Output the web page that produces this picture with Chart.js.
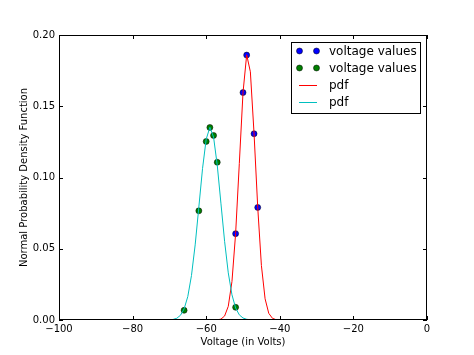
<!DOCTYPE html>
<html><head><meta charset="utf-8">
<script src="https://cdn.jsdelivr.net/npm/chart.js@4"></script>
<style>html,body{margin:0;padding:0;background:#fff}</style>
</head><body>
<canvas id="c" width="474" height="355"></canvas>
<script>
// Data
const blueX = [-49, -50, -47, -46, -52];
const blueY = [0.1859, 0.1596, 0.1307, 0.0790, 0.0606];
const greenX = [-59, -58, -60, -57, -62, -66, -52];
const greenY = [0.1351, 0.1295, 0.1253, 0.1107, 0.0766, 0.0068, 0.0089];
const redX = [-100, -58, -57, -56, -55, -54, -53, -52, -51, -50, -49, -48, -47, -46, -45, -44, -43, -42, -41, -40, 0];
const redY = [0, 0.0000, 0.0001, 0.0006, 0.0028, 0.0096, 0.0270, 0.0608, 0.1099, 0.1596, 0.1861, 0.1742, 0.1310, 0.0791, 0.0383, 0.0149, 0.0047, 0.0012, 0.0002, 0.0000, 0];
const cyanX = [-100, -72, -71, -70, -69, -68, -67, -66, -65, -64, -63, -62, -61, -60, -59, -58, -57, -56, -55, -54, -53, -52, -51, -50, -49, -48, -47, -46, 0];
const cyanY = [0, 0.0000, 0.0000, 0.0001, 0.0004, 0.0012, 0.0033, 0.0078, 0.0165, 0.0312, 0.0527, 0.0792, 0.1062, 0.1269, 0.1352, 0.1284, 0.1087, 0.0820, 0.0552, 0.0331, 0.0177, 0.0084, 0.0036, 0.0014, 0.0005, 0.0001, 0.0000, 0.0000, 0];
const xTicks = [-100, -80, -60, -40, -20, 0];
const xTickLabels = ['\u2212100', '\u221280', '\u221260', '\u221240', '\u221220', '0'];
const yTicks = [0, 0.05, 0.10, 0.15, 0.20];
const yTickLabels = ['0.00', '0.05', '0.10', '0.15', '0.20'];
const seriesLabels = ['voltage values', 'voltage values', 'pdf', 'pdf'];

const pts = (xs, ys) => xs.map((x, i) => ({x: x, y: ys[i]}));
const FONT = 'DejaVu Sans';

const framePlugin = {
  id: 'frame',
  afterDatasetsDraw(chart) {
    const {ctx, chartArea: a, scales: {x, y}} = chart;
    ctx.save();
    ctx.strokeStyle = '#000';
    ctx.lineWidth = 1;
    ctx.strokeRect(a.left + 0.5, a.top + 0.5, a.right - a.left - 1, a.bottom - a.top - 1);
    ctx.beginPath();
    xTicks.forEach(v => {
      const px = Math.round(x.getPixelForValue(v)) + 0.5;
      ctx.moveTo(px, a.bottom); ctx.lineTo(px, a.bottom - 4);
      ctx.moveTo(px, a.top); ctx.lineTo(px, a.top + 4);
    });
    yTicks.forEach(v => {
      const py = Math.round(y.getPixelForValue(v)) + 0.5;
      ctx.moveTo(a.left, py); ctx.lineTo(a.left + 4, py);
      ctx.moveTo(a.right, py); ctx.lineTo(a.right - 4, py);
    });
    ctx.stroke();
    ctx.restore();
  },
  afterDraw(chart) {
    const {ctx} = chart;
    const ds = chart.data.datasets;
    ctx.save();
    const bx = 291.5, by = 42.5, bw = 129, bh = 71;
    ctx.fillStyle = '#fff';
    ctx.fillRect(bx, by, bw, bh);
    ctx.strokeStyle = '#000';
    ctx.lineWidth = 1;
    ctx.strokeRect(bx, by, bw, bh);
    const rows = [51, 68, 85, 102];
    ctx.font = '12px "' + FONT + '"';
    ctx.textBaseline = 'middle';
    ctx.textAlign = 'left';
    // legend order: blue pts, green pts, red line, cyan line
    const legendOrder = [2, 3, 0, 1];
    legendOrder.forEach((di, r) => {
      const d = ds[di];
      const yy = rows[r];
      if (d.showLine) {
        ctx.strokeStyle = d.borderColor;
        ctx.lineWidth = 1;
        ctx.beginPath();
        ctx.moveTo(299, yy + 0.5); ctx.lineTo(317, yy + 0.5);
        ctx.stroke();
      } else {
        [299.5, 316.5].forEach(cx => {
          ctx.beginPath();
          ctx.arc(cx, yy, 3, 0, Math.PI * 2);
          ctx.fillStyle = d.backgroundColor;
          ctx.fill();
          ctx.strokeStyle = '#000';
          ctx.lineWidth = 0.5;
          ctx.stroke();
        });
      }
      ctx.fillStyle = '#000';
      ctx.fillText(d.label, 329, yy + 1);
    });
    ctx.restore();
  }
};

new Chart(document.getElementById('c'), {
  type: 'scatter',
  data: {
    datasets: [
      {label: seriesLabels[2], data: pts(redX, redY), showLine: true, borderColor: '#ff0000', backgroundColor: '#ff0000', borderWidth: 1, pointRadius: 0, tension: 0, order: 2},
      {label: seriesLabels[3], data: pts(cyanX, cyanY), showLine: true, borderColor: '#00bfbf', backgroundColor: '#00bfbf', borderWidth: 1, pointRadius: 0, tension: 0, order: 1},
      {label: seriesLabels[0], data: pts(blueX, blueY), showLine: false, backgroundColor: '#0000ff', borderColor: '#000', borderWidth: 0.5, pointRadius: 3, order: 4},
      {label: seriesLabels[1], data: pts(greenX, greenY), showLine: false, backgroundColor: '#008000', borderColor: '#000', borderWidth: 0.5, pointRadius: 3, order: 3}
    ]
  },
  options: {
    responsive: false,
    animation: false,
    devicePixelRatio: 1,
    layout: {padding: {left: 0, right: 47, top: 35, bottom: 0}},
    plugins: {legend: {display: false}, tooltip: {enabled: false}},
    scales: {
      x: {
        type: 'linear', min: -100, max: 0,
        afterBuildTicks: s => { s.ticks = xTicks.map(v => ({value: v})); },
        afterFit: s => { s.height = 35; },
        grid: {display: false, drawTicks: false},
        border: {display: false},
        ticks: {padding: 3, color: '#000', maxRotation: 0, autoSkip: false, font: {family: FONT, size: 10},
          callback: (v, i) => xTickLabels[i]},
        title: {display: true, text: 'Voltage (in Volts)', color: '#000', font: {family: FONT, size: 10}, padding: {top: 0, bottom: 7}}
      },
      y: {
        type: 'linear', min: 0, max: 0.2,
        afterBuildTicks: s => { s.ticks = yTicks.map(v => ({value: v})); },
        afterFit: s => { s.width = 59; },
        grid: {display: false, drawTicks: false},
        border: {display: false},
        ticks: {padding: 4, color: '#000', autoSkip: false, font: {family: FONT, size: 10},
          callback: (v, i) => yTickLabels[i]},
        title: {display: true, text: 'Normal Probability Density Function', color: '#000', font: {family: FONT, size: 10}, padding: {top: 18, bottom: 0}}
      }
    }
  },
  plugins: [framePlugin]
});
</script>
</body></html>
